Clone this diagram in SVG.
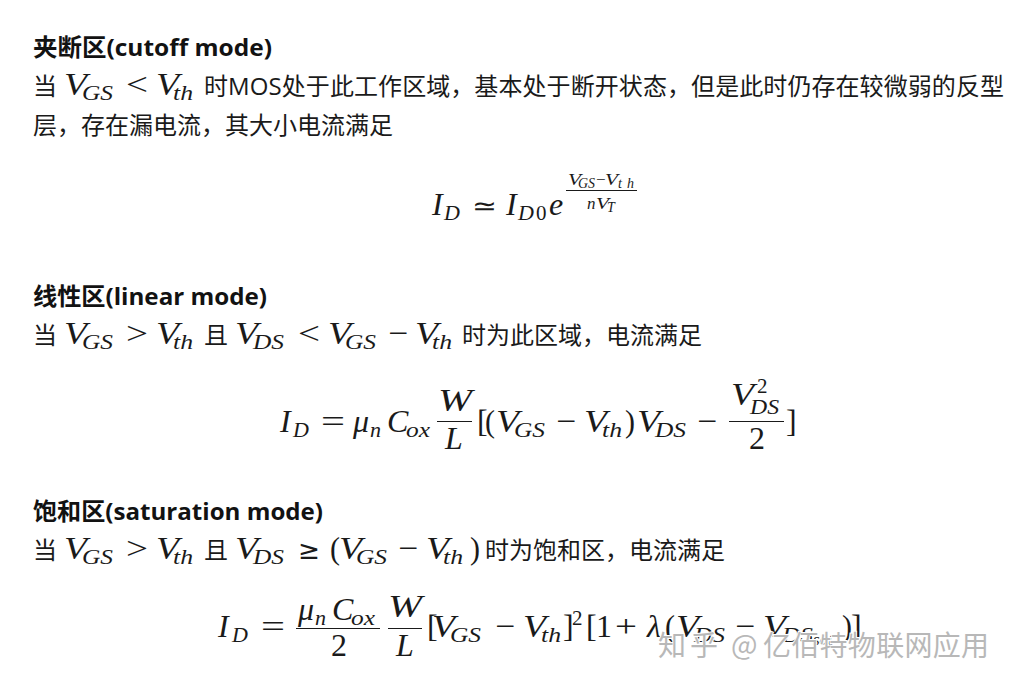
<svg xmlns="http://www.w3.org/2000/svg" width="1016" height="685" viewBox="0 0 1016 685">
<style>
text{fill:#1a1a1a;white-space:pre}
.h{font:700 24px "Open Sans","Noto Sans CJK SC",sans-serif;fill:#121212}
.b{font:400 24px "Open Sans","Noto Sans CJK SC",sans-serif}
.m{font:italic 400 32px "Liberation Serif",serif}
.s{font:italic 400 22px "Liberation Serif",serif}
.t{font:italic 400 17px "Liberation Serif",serif}
.u{font:italic 400 14px "Liberation Serif",serif}
.r{font:400 32px "Liberation Serif",serif}
.o{font:400 26px "DejaVu Sans",sans-serif}
.r2{font:400 21px "Liberation Serif",serif}
.l{stroke:#1a1a1a;stroke-width:1.2;fill:none}
.w{font:400 28px "Noto Sans CJK SC",sans-serif;fill:#b8b8b8;stroke:#fff;stroke-width:2;paint-order:stroke}
</style>
<rect width="1016" height="685" fill="#fff"/>
<g id="cutoff">
<text class="h" x="33" y="56" textLength="239" lengthAdjust="spacingAndGlyphs">夹断区(cutoff mode)</text>
<text class="b" x="33" y="95">当</text>
<text class="m" x="64" y="95" textLength="23" lengthAdjust="spacingAndGlyphs">V</text><text class="s" x="82" y="100" textLength="31" lengthAdjust="spacingAndGlyphs">GS</text>
<text class="r" x="126" y="95" textLength="22" lengthAdjust="spacingAndGlyphs">&lt;</text>
<text class="m" x="156" y="95" textLength="23" lengthAdjust="spacingAndGlyphs">V</text><text class="s" x="173" y="100" textLength="20" lengthAdjust="spacingAndGlyphs">th</text>
<text class="b" x="204" y="95" textLength="800" lengthAdjust="spacing">时MOS处于此工作区域，基本处于断开状态，但是此时仍存在较微弱的反型</text>
<text class="b" x="33" y="134">层，存在漏电流，其大小电流满足</text>
<text class="m" x="432" y="215">I</text><text class="s" x="444" y="220">D</text>
<text class="o" x="472" y="215" textLength="25" lengthAdjust="spacingAndGlyphs">≃</text>
<text class="m" x="506" y="215">I</text><text class="s" x="518" y="220">D</text><text class="r2" x="536" y="220">0</text>
<text class="m" x="549" y="215">e</text>
<text class="t" x="568" y="185" textLength="13" lengthAdjust="spacingAndGlyphs">V</text><text class="u" x="578" y="188" textLength="17" lengthAdjust="spacingAndGlyphs">GS</text><text class="t" x="595" y="185">−</text><text class="t" x="605" y="185" textLength="13" lengthAdjust="spacingAndGlyphs">V</text><text class="u" x="618" y="188" textLength="16" lengthAdjust="spacing">th</text>
<path class="l" d="M566 190.500H637"/>
<text class="t" x="587" y="209">n</text><text class="t" x="596" y="209" textLength="13" lengthAdjust="spacingAndGlyphs">V</text><text class="u" x="607" y="212">T</text>
</g>
<g id="linear">
<text class="h" x="33" y="305" textLength="234" lengthAdjust="spacingAndGlyphs">线性区(linear mode)</text>
<text class="b" x="33" y="344">当</text>
<text class="m" x="64" y="344" textLength="23" lengthAdjust="spacingAndGlyphs">V</text><text class="s" x="82" y="349" textLength="31" lengthAdjust="spacingAndGlyphs">GS</text>
<text class="r" x="126" y="344" textLength="22" lengthAdjust="spacingAndGlyphs">&gt;</text>
<text class="m" x="156" y="344" textLength="23" lengthAdjust="spacingAndGlyphs">V</text><text class="s" x="173" y="349" textLength="20" lengthAdjust="spacingAndGlyphs">th</text>
<text class="b" x="204" y="344">且</text>
<text class="m" x="235" y="344" textLength="23" lengthAdjust="spacingAndGlyphs">V</text><text class="s" x="253" y="349" textLength="31" lengthAdjust="spacingAndGlyphs">DS</text>
<text class="r" x="298" y="344" textLength="22" lengthAdjust="spacingAndGlyphs">&lt;</text>
<text class="m" x="328" y="344" textLength="23" lengthAdjust="spacingAndGlyphs">V</text><text class="s" x="345" y="349" textLength="31" lengthAdjust="spacingAndGlyphs">GS</text>
<text class="r" x="388" y="344" textLength="20" lengthAdjust="spacingAndGlyphs">−</text>
<text class="m" x="415" y="344" textLength="23" lengthAdjust="spacingAndGlyphs">V</text><text class="s" x="432" y="349" textLength="20" lengthAdjust="spacingAndGlyphs">th</text>
<text class="b" x="462" y="344">时为此区域，电流满足</text>
<text class="m" x="280" y="432">I</text><text class="s" x="293" y="437">D</text>
<text class="r" x="321" y="432" textLength="24" lengthAdjust="spacingAndGlyphs">=</text>
<text class="m" x="353" y="432">μ</text><text class="s" x="370" y="437">n</text>
<text class="m" x="387" y="432">C</text><text class="s" x="406" y="437" textLength="24" lengthAdjust="spacingAndGlyphs">ox</text>
<text class="m" x="438" y="411" textLength="34" lengthAdjust="spacingAndGlyphs">W</text>
<path class="l" d="M437 421.500H472"/>
<text class="m" x="445" y="449">L</text>
<text class="r" x="477" y="432">[</text><text class="r" x="485" y="432" textLength="10" lengthAdjust="spacingAndGlyphs">(</text>
<text class="m" x="496" y="432" textLength="23" lengthAdjust="spacingAndGlyphs">V</text><text class="s" x="514" y="437" textLength="31" lengthAdjust="spacingAndGlyphs">GS</text>
<text class="r" x="556" y="432" textLength="20" lengthAdjust="spacingAndGlyphs">−</text>
<text class="m" x="584" y="432" textLength="23" lengthAdjust="spacingAndGlyphs">V</text><text class="s" x="602" y="437" textLength="20" lengthAdjust="spacingAndGlyphs">th</text>
<text class="r" x="625" y="432" textLength="10" lengthAdjust="spacingAndGlyphs">)</text>
<text class="m" x="637" y="432" textLength="23" lengthAdjust="spacingAndGlyphs">V</text><text class="s" x="655" y="437" textLength="31" lengthAdjust="spacingAndGlyphs">DS</text>
<text class="r" x="697" y="432" textLength="20" lengthAdjust="spacingAndGlyphs">−</text>
<text class="m" x="731" y="405" textLength="23" lengthAdjust="spacingAndGlyphs">V</text><text class="r2" x="757" y="393">2</text><text class="s" x="750" y="414" textLength="29" lengthAdjust="spacingAndGlyphs">DS</text>
<path class="l" d="M729 421.500H784"/>
<text class="r" x="749" y="449">2</text>
<text class="r" x="786" y="432">]</text>
</g>
<g id="saturation">
<text class="h" x="33" y="520" textLength="290" lengthAdjust="spacingAndGlyphs">饱和区(saturation mode)</text>
<text class="b" x="33" y="559">当</text>
<text class="m" x="64" y="559" textLength="23" lengthAdjust="spacingAndGlyphs">V</text><text class="s" x="82" y="564" textLength="31" lengthAdjust="spacingAndGlyphs">GS</text>
<text class="r" x="126" y="559" textLength="22" lengthAdjust="spacingAndGlyphs">&gt;</text>
<text class="m" x="156" y="559" textLength="23" lengthAdjust="spacingAndGlyphs">V</text><text class="s" x="173" y="564" textLength="20" lengthAdjust="spacingAndGlyphs">th</text>
<text class="b" x="204" y="559">且</text>
<text class="m" x="235" y="559" textLength="23" lengthAdjust="spacingAndGlyphs">V</text><text class="s" x="253" y="564" textLength="31" lengthAdjust="spacingAndGlyphs">DS</text>
<text class="o" x="298" y="559" textLength="22" lengthAdjust="spacingAndGlyphs">≥</text>
<text class="r" x="330" y="559" textLength="10" lengthAdjust="spacingAndGlyphs">(</text>
<text class="m" x="339" y="559" textLength="23" lengthAdjust="spacingAndGlyphs">V</text><text class="s" x="356" y="564" textLength="31" lengthAdjust="spacingAndGlyphs">GS</text>
<text class="r" x="398" y="559" textLength="20" lengthAdjust="spacingAndGlyphs">−</text>
<text class="m" x="426" y="559" textLength="23" lengthAdjust="spacingAndGlyphs">V</text><text class="s" x="443" y="564" textLength="20" lengthAdjust="spacingAndGlyphs">th</text>
<text class="r" x="470" y="559" textLength="10" lengthAdjust="spacingAndGlyphs">)</text>
<text class="b" x="485" y="559">时为饱和区，电流满足</text>
<text class="m" x="218" y="637">I</text><text class="s" x="232" y="642">D</text>
<text class="r" x="261" y="637" textLength="24" lengthAdjust="spacingAndGlyphs">=</text>
<text class="m" x="298" y="620">μ</text><text class="s" x="315" y="625">n</text>
<text class="m" x="332" y="620">C</text><text class="s" x="351" y="625" textLength="24" lengthAdjust="spacingAndGlyphs">ox</text>
<path class="l" d="M296 628.500H380"/>
<text class="r" x="331" y="656">2</text>
<text class="m" x="388" y="617" textLength="34" lengthAdjust="spacingAndGlyphs">W</text>
<path class="l" d="M388 628.500H422"/>
<text class="m" x="396" y="656">L</text>
<text class="r" x="427" y="637">[</text>
<text class="m" x="432" y="637" textLength="23" lengthAdjust="spacingAndGlyphs">V</text><text class="s" x="450" y="642" textLength="31" lengthAdjust="spacingAndGlyphs">GS</text>
<text class="r" x="495" y="637" textLength="20" lengthAdjust="spacingAndGlyphs">−</text>
<text class="m" x="523" y="637" textLength="23" lengthAdjust="spacingAndGlyphs">V</text><text class="s" x="541" y="642" textLength="20" lengthAdjust="spacingAndGlyphs">th</text>
<text class="r" x="563" y="637">]</text><text class="r2" x="572" y="625">2</text>
<text class="r" x="586" y="637">[</text><text class="r" x="596" y="637">1</text>
<text class="r" x="615" y="637" textLength="22" lengthAdjust="spacingAndGlyphs">+</text>
<text class="m" x="647" y="637">λ</text><text class="r" x="665" y="637" textLength="10" lengthAdjust="spacingAndGlyphs">(</text>
<text class="m" x="676" y="637" textLength="23" lengthAdjust="spacingAndGlyphs">V</text><text class="s" x="694" y="642" textLength="31" lengthAdjust="spacingAndGlyphs">DS</text>
<text class="r" x="735" y="637" textLength="20" lengthAdjust="spacingAndGlyphs">−</text>
<text class="m" x="763" y="637" textLength="23" lengthAdjust="spacingAndGlyphs">V</text><text class="s" x="782" y="642" textLength="31" lengthAdjust="spacingAndGlyphs">DS</text><text class="t" x="813" y="645">sat</text>
<text class="r" x="842" y="637" textLength="10" lengthAdjust="spacingAndGlyphs">)</text><text class="r" x="851" y="637">]</text>
</g>
<g id="watermark">
<text class="w" x="658" y="656" textLength="60" lengthAdjust="spacing">知乎</text>
<text class="w" x="731" y="655">@</text>
<text class="w" x="763" y="656" textLength="226" lengthAdjust="spacing">亿佰特物联网应用</text>
</g>
</svg>
